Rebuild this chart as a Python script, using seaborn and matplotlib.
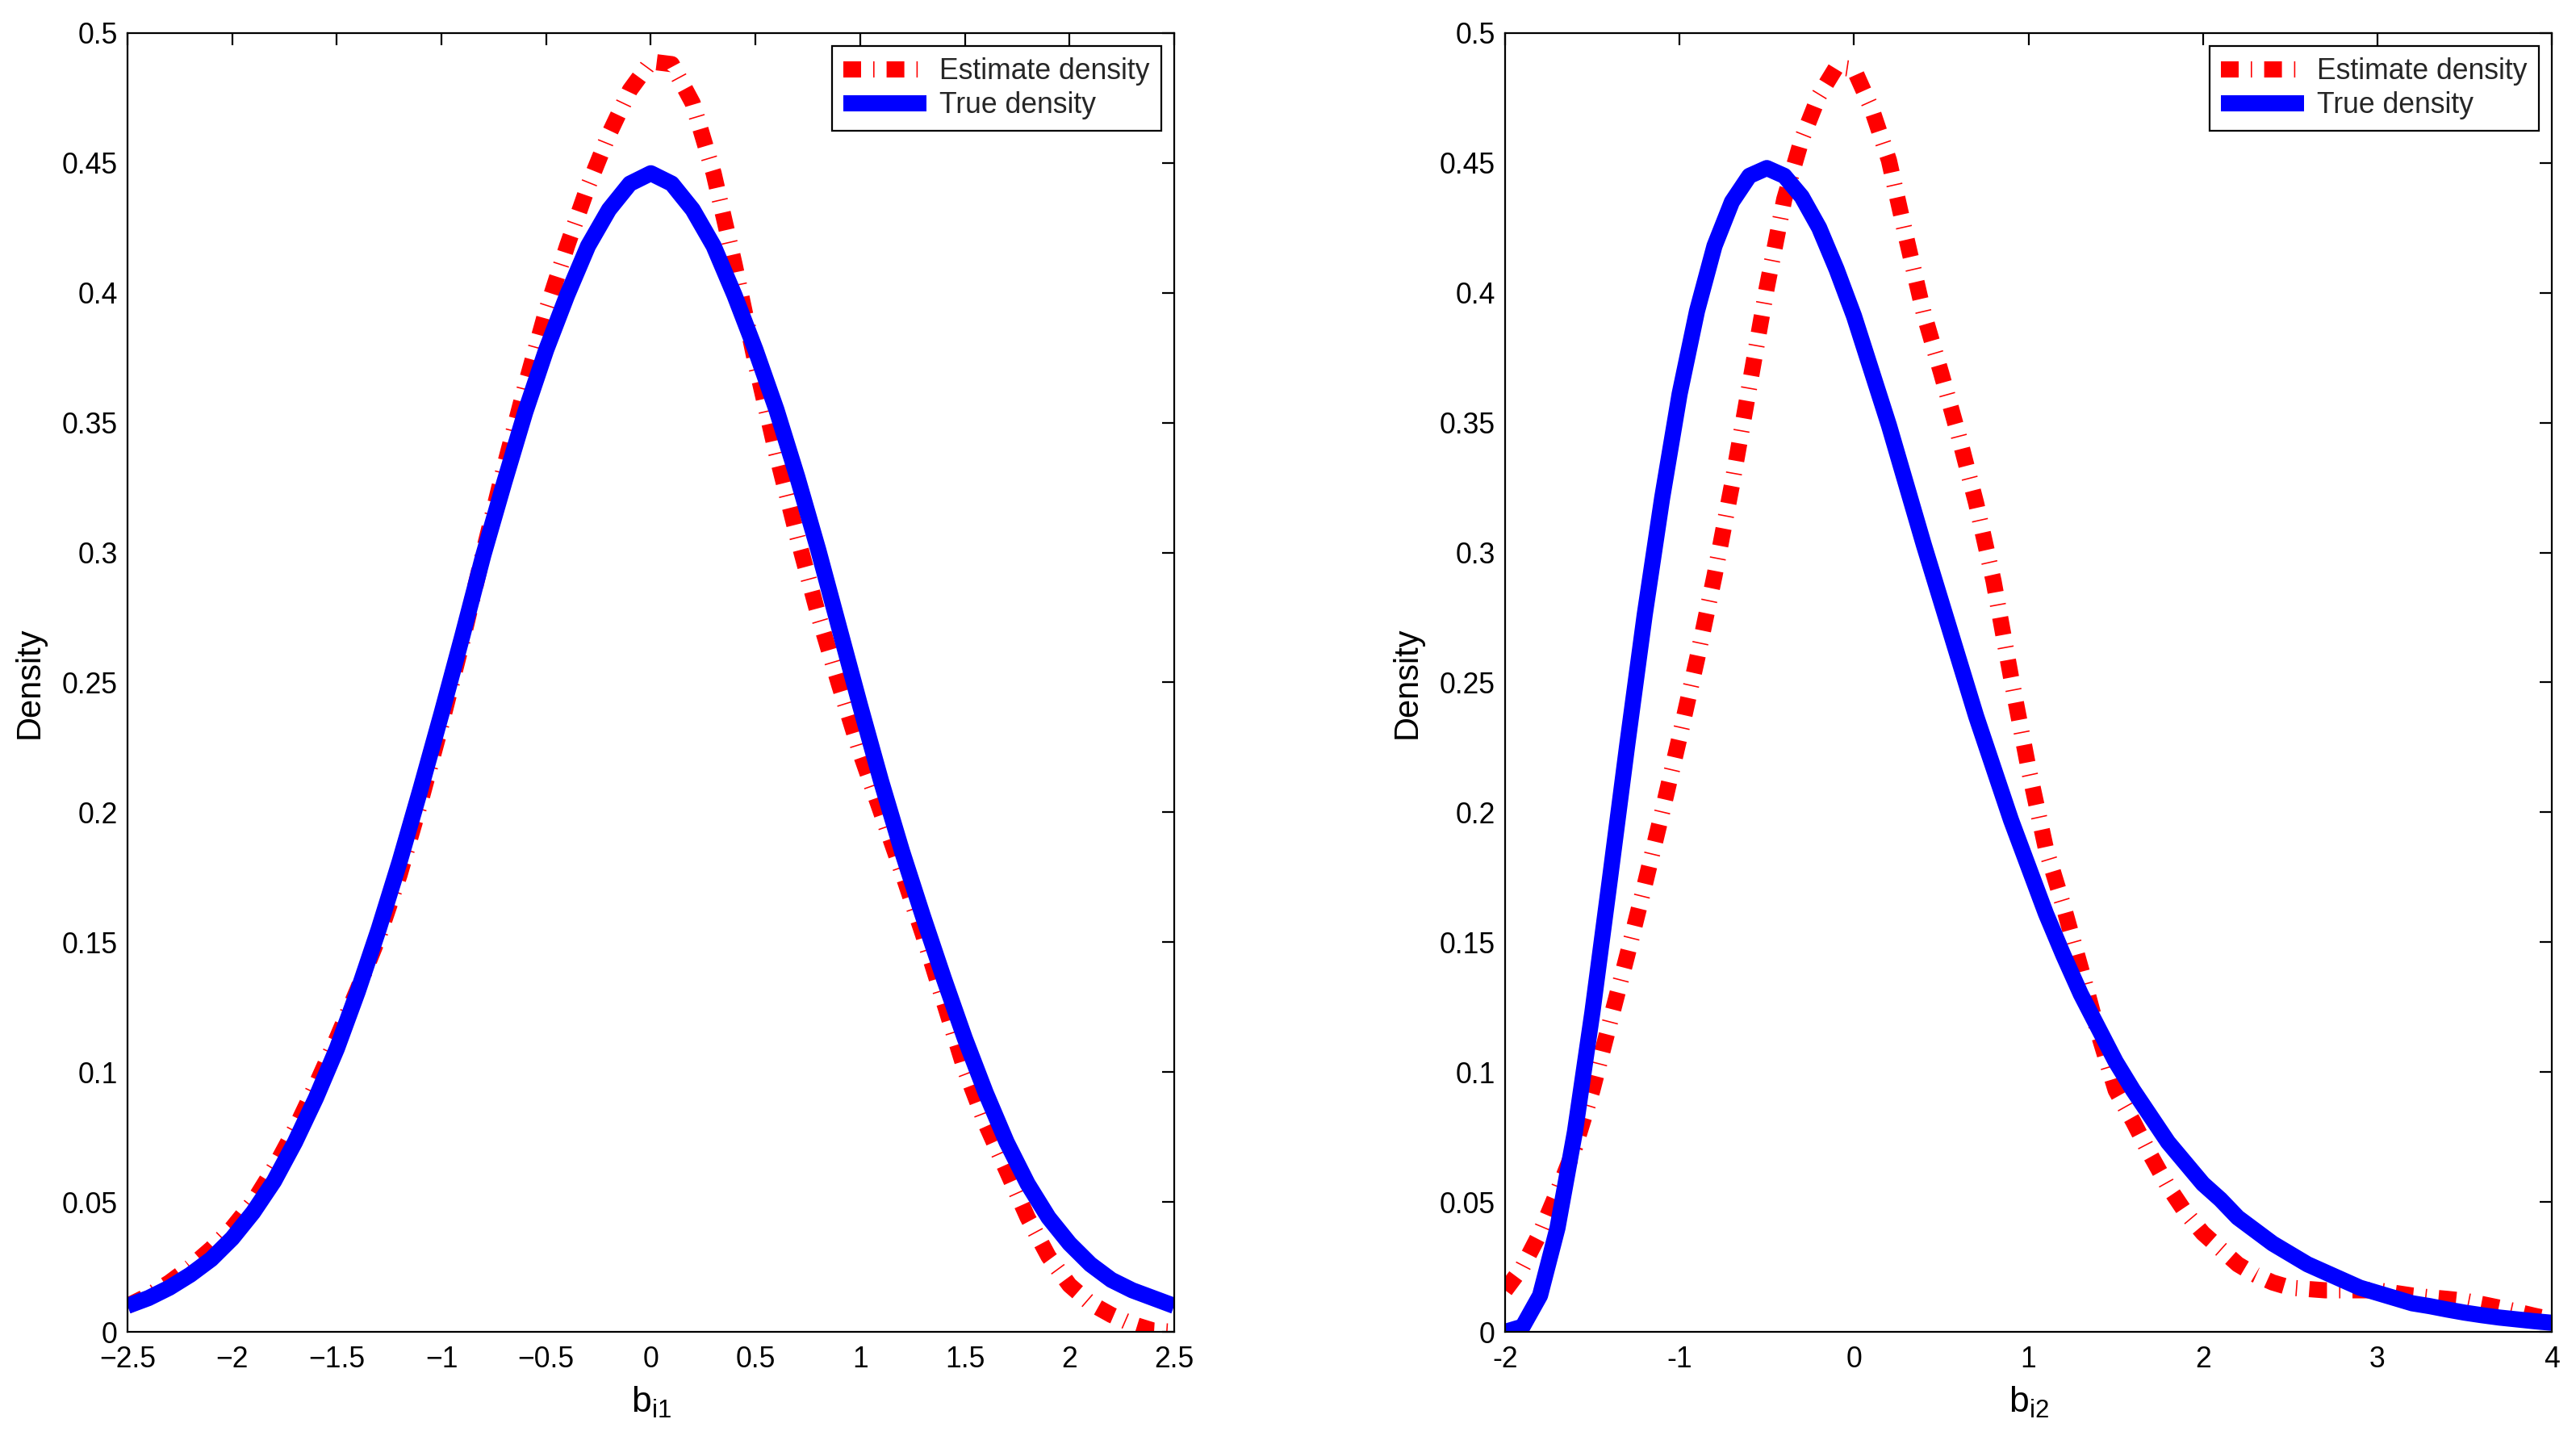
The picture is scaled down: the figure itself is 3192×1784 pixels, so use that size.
import matplotlib
matplotlib.use("Agg")
import pandas as pd
import seaborn as sns
import matplotlib.pyplot as plt

# values
series_names = ["Estimate density", "True density"]

b1_grid = [-2.5, -2.4, -2.3, -2.2, -2.1, -2.0, -1.9, -1.8, -1.7, -1.6,
           -1.5, -1.4, -1.3, -1.2, -1.1, -1.0, -0.9, -0.8, -0.7, -0.6,
           -0.5, -0.4, -0.3, -0.2, -0.1, 0.0, 0.1, 0.2, 0.3, 0.4,
           0.5, 0.6, 0.7, 0.8, 0.9, 1.0, 1.1, 1.2, 1.3, 1.4,
           1.5, 1.6, 1.7, 1.8, 1.9, 2.0, 2.1, 2.2, 2.3, 2.4, 2.5]
b1_estimate = [0.010, 0.014, 0.019, 0.025, 0.032, 0.040, 0.050, 0.063, 0.078, 0.095,
               0.113, 0.132, 0.152, 0.176, 0.204, 0.234, 0.266, 0.300, 0.333, 0.364,
               0.393, 0.418, 0.441, 0.461, 0.478, 0.489, 0.488, 0.473, 0.446, 0.411,
               0.373, 0.338, 0.306, 0.276, 0.249, 0.223, 0.200, 0.177, 0.153, 0.127,
               0.101, 0.080, 0.062, 0.044, 0.029, 0.018, 0.011, 0.0065, 0.003, 0.0005, 0.0]
b1_true = [0.010, 0.013, 0.017, 0.022, 0.028, 0.036, 0.046, 0.058, 0.073, 0.090,
           0.109, 0.131, 0.155, 0.181, 0.209, 0.238, 0.268, 0.299, 0.327, 0.354,
           0.378, 0.399, 0.418, 0.432, 0.442, 0.446, 0.442, 0.432, 0.418, 0.399,
           0.378, 0.355, 0.329, 0.301, 0.271, 0.241, 0.212, 0.185, 0.160, 0.136,
           0.113, 0.092, 0.073, 0.057, 0.044, 0.034, 0.026, 0.020, 0.016, 0.013, 0.010]

b2_grid = [-2.0, -1.9, -1.8, -1.7, -1.6, -1.5, -1.4, -1.3, -1.2, -1.1,
           -1.0, -0.9, -0.8, -0.7, -0.6, -0.5, -0.4, -0.3, -0.2, -0.1,
           0.0, 0.1, 0.2, 0.3, 0.4, 0.5, 0.6, 0.7, 0.8, 0.9,
           1.0, 1.1, 1.2, 1.3, 1.4, 1.5, 1.6, 1.7, 1.8, 1.9,
           2.0, 2.1, 2.2, 2.3, 2.4, 2.5, 2.6, 2.7, 2.8, 2.9,
           3.0, 3.1, 3.2, 3.3, 3.4, 3.5, 3.6, 3.7, 3.8, 3.9, 4.0]
b2_estimate = [0.016, 0.025, 0.038, 0.054, 0.071, 0.093, 0.119, 0.145, 0.172, 0.200,
               0.229, 0.259, 0.291, 0.326, 0.364, 0.402, 0.436, 0.459, 0.476, 0.487,
               0.486, 0.471, 0.451, 0.421, 0.392, 0.369, 0.345, 0.319, 0.289, 0.252,
               0.217, 0.186, 0.164, 0.140, 0.115, 0.093, 0.081, 0.068, 0.056, 0.046,
               0.038, 0.032, 0.026, 0.022, 0.019, 0.017, 0.0165, 0.016, 0.016, 0.016,
               0.016, 0.015, 0.014, 0.0133, 0.0127, 0.012, 0.0107, 0.0093, 0.0078, 0.0062, 0.0048]
b2_true = [0.000, 0.002, 0.014, 0.040, 0.077, 0.123, 0.174, 0.226, 0.276, 0.321,
           0.361, 0.393, 0.418, 0.435, 0.445, 0.448, 0.445, 0.437, 0.425, 0.409,
           0.391, 0.370, 0.349, 0.326, 0.303, 0.281, 0.259, 0.237, 0.217, 0.197,
           0.179, 0.161, 0.145, 0.130, 0.117, 0.104, 0.093, 0.083, 0.073, 0.065,
           0.057, 0.051, 0.044, 0.039, 0.034, 0.030, 0.026, 0.023, 0.020, 0.017,
           0.015, 0.013, 0.011, 0.0099, 0.0086, 0.0074, 0.0064, 0.0055, 0.0048, 0.0041, 0.0035]

y_ticks = [0, 0.05, 0.1, 0.15, 0.2, 0.25, 0.3, 0.35, 0.4, 0.45, 0.5]
y_tick_labels = ["0", "0.05", "0.1", "0.15", "0.2", "0.25", "0.3", "0.35", "0.4", "0.45", "0.5"]
b1_ticks = [-2.5, -2, -1.5, -1, -0.5, 0, 0.5, 1, 1.5, 2, 2.5]
b1_tick_labels = ["\u22122.5", "\u22122", "\u22121.5", "\u22121", "\u22120.5", "0",
                  "0.5", "1", "1.5", "2", "2.5"]
b2_ticks = [-2, -1, 0, 1, 2, 3, 4]
b2_tick_labels = ["-2", "-1", "0", "1", "2", "3", "4"]

sns.set_theme(style="white")
plt.rcParams["font.family"] = ["Liberation Sans", "DejaVu Sans"]
plt.rcParams["mathtext.fontset"] = "custom"
plt.rcParams["mathtext.rm"] = "Liberation Sans"
plt.rcParams["mathtext.it"] = "Liberation Sans"


def make_frame(grid, estimate, true):
    return pd.DataFrame({
        "b": list(grid) + list(grid),
        "density": list(estimate) + list(true),
        "curve": [series_names[0]] * len(grid) + [series_names[1]] * len(grid),
    })


def draw_panel(ax, df, xlim, ticks, tick_labels, xlabel):
    sns.lineplot(data=df, x="b", y="density", hue="curve", style="curve",
                 hue_order=series_names, style_order=series_names,
                 palette={series_names[0]: "#ff0000", series_names[1]: "#0000ff"},
                 dashes={series_names[0]: (1.1, 0.75, 0.08, 0.75), series_names[1]: ""},
                 linewidth=7.2, errorbar=None, legend=False, ax=ax,
                 solid_joinstyle="round", solid_capstyle="butt")
    ax.set_xlim(*xlim)
    ax.set_ylim(0, 0.5)
    ax.set_xticks(ticks)
    ax.set_xticklabels(tick_labels)
    ax.set_yticks(y_ticks)
    ax.set_yticklabels(y_tick_labels)
    ax.tick_params(direction="in", top=True, right=True, length=5.5, width=0.8,
                   labelsize=12.8, colors="black")
    ax.tick_params(axis="x", pad=6)
    ax.tick_params(axis="y", pad=4.5)
    for sp in ax.spines.values():
        sp.set_visible(True)
        sp.set_color("black")
        sp.set_linewidth(0.8)
    ax.set_ylabel("Density", fontsize=15, color="black")
    ax.yaxis.set_label_coords(-0.078, 0.5)
    ax.set_xlabel(xlabel, fontsize=16, color="black")
    ax.xaxis.set_label_coords(0.5, -0.041)
    leg = ax.legend(ax.lines[:2], series_names, loc="upper right", fontsize=12.8,
                    frameon=True, fancybox=False, framealpha=1, edgecolor="black",
                    handlelength=2.9, handletextpad=0.45, borderpad=0.4,
                    labelspacing=0.2, borderaxespad=0.45)
    leg.get_frame().set_linewidth(0.8)


fig = plt.figure(figsize=(15.96, 8.92), dpi=200)
ax1 = fig.add_axes([0.0495, 0.0751, 0.4063, 0.902])
ax2 = fig.add_axes([0.5843, 0.0751, 0.4063, 0.902])

draw_panel(ax1, make_frame(b1_grid, b1_estimate, b1_true), (-2.5, 2.5),
           b1_ticks, b1_tick_labels, r"$\mathregular{b_{i1}}$")
draw_panel(ax2, make_frame(b2_grid, b2_estimate, b2_true), (-2, 4),
           b2_ticks, b2_tick_labels, r"$\mathregular{b_{i2}}$")

fig.savefig("out.png", dpi=200, facecolor="white")
